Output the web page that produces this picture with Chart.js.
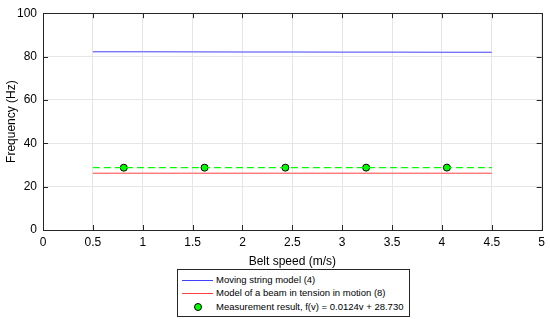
<!DOCTYPE html>
<html>
<head>
<meta charset="utf-8">
<script src="https://cdn.jsdelivr.net/npm/chart.js@4"></script>
<style>
  body { margin: 0; background: #fff; font-family: "Liberation Sans", Arial, sans-serif; }
  #wrap { position: relative; width: 550px; height: 319px; }
  #legend {
    position: absolute; left: 177px; top: 269px; width: 233px; height: 48px;
    border: 1px solid #262626; box-sizing: border-box; background: #fff;
    font-size: 9.5px; color: #000;
  }
  .row { position: absolute; left: 0; height: 14px; line-height: 14px; white-space: nowrap; }
  .txt { position: absolute; left: 38px; top: 0; }
  .ln { position: absolute; left: 4px; width: 31px; top: 7px; height: 1px; }
  .dot { position: absolute; left: 16px; top: 3px; width: 6px; height: 6px; border-radius: 50%; background: #00ff00; border: 1px solid #000; }
</style>
</head>
<body>
<div id="wrap">
  <canvas id="grafico" width="550" height="319"></canvas>
  <div id="legend">
    <div class="row" style="top:3px"><div class="ln" style="background:#4040ff"></div><span class="txt">Moving string model (4)</span></div>
    <div class="row" style="top:16px"><div class="ln" style="background:#ff4040"></div><span class="txt">Model of a beam in tension in motion (8)</span></div>
    <div class="row" style="top:30px"><div class="dot"></div><span class="txt">Measurement result, f(v) = 0.0124v + 28.730</span></div>
  </div>
</div>
<script>
const xTicks = [0, 0.5, 1, 1.5, 2, 2.5, 3, 3.5, 4, 4.5, 5];
const yTicks = [0, 20, 40, 60, 80, 100];

const velocidades = [0.5, 1, 1.5, 2, 2.5, 3, 3.5, 4, 4.5];
const cordaMovel = [82.2, 82.2, 82.15, 82.1, 82.1, 82.05, 82.05, 82.0, 82.0];
const vigaTensao = [26.2, 26.2, 26.2, 26.2, 26.2, 26.2, 26.2, 26.2, 26.2];

const ajusteX = [0.5, 4.5];
const ajusteY = [28.74, 28.79];

const medidasX = [0.81, 1.62, 2.43, 3.24, 4.05];
const medidasY = [28.74, 28.75, 28.76, 28.77, 28.78];

const pares = (xs, ys) => xs.map((x, i) => ({ x: x, y: ys[i] }));

// ticks para dentro nos quatro lados
const ticksDentro = {
    id: 'ticksDentro',
    afterDraw(chart) {
        const { ctx, chartArea: a, scales } = chart;
        ctx.save();
        ctx.strokeStyle = '#262626';
        ctx.lineWidth = 1;
        ctx.beginPath();
        xTicks.forEach(v => {
            const px = Math.round(scales.x.getPixelForValue(v)) + 0.5;
            ctx.moveTo(px, a.bottom); ctx.lineTo(px, a.bottom - 5);
            ctx.moveTo(px, a.top); ctx.lineTo(px, a.top + 5);
        });
        yTicks.forEach(v => {
            const py = Math.round(scales.y.getPixelForValue(v)) + 0.5;
            ctx.moveTo(a.left, py); ctx.lineTo(a.left + 5, py);
            ctx.moveTo(a.right, py); ctx.lineTo(a.right - 5, py);
        });
        ctx.stroke();
        ctx.strokeRect(Math.round(a.left) + 0.5, Math.round(a.top) + 0.5, Math.round(a.right - a.left), Math.round(a.bottom - a.top));
        ctx.restore();
    }
};

const fonte = { family: 'Liberation Sans', size: 12 };

const ctx = document.getElementById('grafico').getContext('2d');
new Chart(ctx, {
    type: 'scatter',
    data: {
        datasets: [
            {
                label: 'Moving string model (4)',
                data: pares(velocidades, cordaMovel),
                showLine: true, borderColor: '#4040ff', borderWidth: 1, pointRadius: 0
            },
            {
                label: 'Model of a beam in tension in motion (8)',
                data: pares(velocidades, vigaTensao),
                showLine: true, borderColor: '#ff4040', borderWidth: 1, pointRadius: 0
            },
            {
                label: 'fit',
                data: pares(ajusteX, ajusteY),
                showLine: true, borderColor: '#00ff00', borderWidth: 1.2, borderDash: [7, 4], pointRadius: 0
            },
            {
                label: 'Measurement result, f(v) = 0.0124v + 28.730',
                data: pares(medidasX, medidasY),
                showLine: false, pointRadius: 3.5, pointBackgroundColor: '#00ff00',
                pointBorderColor: '#000', pointBorderWidth: 1
            }
        ]
    },
    options: {
        responsive: false,
        animation: false,
        layout: { padding: { top: 9, right: 7, bottom: 44, left: 0 } },
        plugins: { legend: { display: false }, tooltip: { enabled: false } },
        scales: {
            x: {
                type: 'linear', min: 0, max: 5,
                afterBuildTicks: s => { s.ticks = xTicks.map(v => ({ value: v })); },
                afterFit: s => { s.height = 45; },
                ticks: { color: '#000', font: fonte, padding: 5, maxRotation: 0, callback: v => String(v) },
                grid: { color: '#e6e6e6', drawTicks: false },
                border: { display: false },
                title: { display: true, text: 'Belt speed (m/s)', color: '#000', font: fonte, padding: { top: 2, bottom: 6 } }
            },
            y: {
                type: 'linear', min: 0, max: 100,
                afterBuildTicks: s => { s.ticks = yTicks.map(v => ({ value: v })); },
                afterFit: s => { s.width = 43; },
                ticks: { color: '#000', font: fonte, padding: 6, callback: v => String(v) },
                grid: { color: '#e6e6e6', drawTicks: false },
                border: { display: false },
                title: { display: true, text: 'Frequency (Hz)', color: '#000', font: fonte, padding: { top: 4, bottom: 4 } }
            }
        }
    },
    plugins: [ticksDentro]
});
</script>
</body>
</html>
